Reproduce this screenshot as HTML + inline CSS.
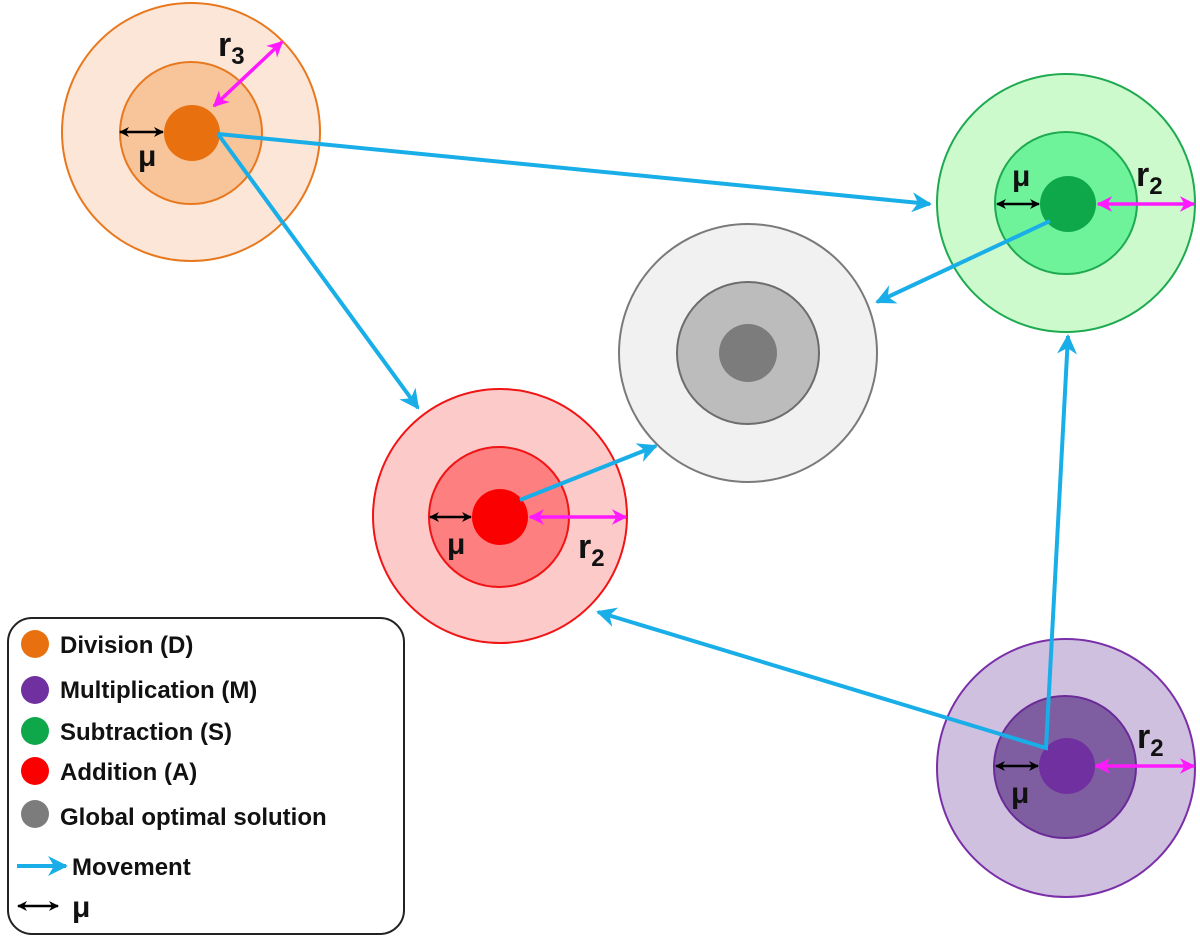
<!DOCTYPE html>
<html><head><meta charset="utf-8"><style>
html,body{margin:0;padding:0;background:#fff;}
svg{display:block;}
text{font-family:"Liberation Sans",sans-serif;font-weight:bold;fill:#111;}
</style></head><body>
<svg width="1200" height="938" viewBox="0 0 1200 938" xmlns="http://www.w3.org/2000/svg">
<defs>
<marker id="b" viewBox="0 0 10 10" refX="9" refY="5" markerWidth="5" markerHeight="5" orient="auto-start-reverse"><path d="M0,0L10,5L0,10L3,5z" fill="#19aee8"/></marker>
<marker id="m" viewBox="0 0 10 10" refX="9" refY="5" markerWidth="4.5" markerHeight="4.5" orient="auto-start-reverse"><path d="M0,0L10,5L0,10L3,5z" fill="#ff19ff"/></marker>
<marker id="k" viewBox="0 0 10 10" refX="9" refY="5" markerWidth="4" markerHeight="4" orient="auto-start-reverse"><path d="M0,0L10,5L0,10L3,5z" fill="#000"/></marker>
</defs>
<!-- Orange -->
<circle cx="191" cy="132" r="129" fill="#fce6d8" stroke="#e8781e" stroke-width="2"/>
<circle cx="191" cy="133" r="71" fill="#f8c49a" stroke="#e8781e" stroke-width="2"/>
<circle cx="192" cy="133" r="28" fill="#e8700e"/>
<!-- Green -->
<circle cx="1066" cy="203" r="129" fill="#ccfacc" stroke="#1eaa50" stroke-width="2"/>
<circle cx="1066" cy="203" r="71" fill="#6ef39a" stroke="#1eaa50" stroke-width="2"/>
<circle cx="1068" cy="204" r="28" fill="#0ea84a"/>
<!-- Gray -->
<circle cx="748" cy="353" r="129" fill="#f1f1f1" stroke="#7a7a7a" stroke-width="2"/>
<circle cx="748" cy="353" r="71" fill="#bcbcbc" stroke="#6c6c6c" stroke-width="2"/>
<circle cx="748" cy="353" r="29" fill="#7c7c7c"/>
<!-- Red -->
<circle cx="500" cy="516" r="127" fill="#fdcaca" stroke="#f01414" stroke-width="2"/>
<circle cx="499" cy="517" r="70" fill="#fd7f7f" stroke="#f01414" stroke-width="2"/>
<circle cx="500" cy="517" r="28" fill="#fb0000"/>
<!-- Purple -->
<circle cx="1066" cy="768" r="129" fill="#cec0de" stroke="#7a2fa8" stroke-width="2"/>
<circle cx="1065" cy="767" r="71" fill="#7e5ea0" stroke="#6a2a98" stroke-width="2"/>
<circle cx="1067" cy="766" r="28" fill="#7030a0"/>
<!-- movement arrows -->
<g stroke="#19aee8" stroke-width="4" fill="none">
<line x1="218" y1="134" x2="930" y2="204" marker-end="url(#b)"/>
<line x1="218" y1="134" x2="418" y2="408" marker-end="url(#b)"/>
<line x1="1050" y1="221" x2="877" y2="302" marker-end="url(#b)"/>
<line x1="520" y1="500" x2="656" y2="446" marker-end="url(#b)"/>
<polyline points="1068,336 1046,748 598,612" marker-start="url(#b)" marker-end="url(#b)"/>
</g>
<!-- magenta r arrows -->
<g stroke="#ff19ff" stroke-width="3.5">
<line x1="214" y1="106" x2="282" y2="42" marker-start="url(#m)" marker-end="url(#m)"/>
<line x1="530" y1="517" x2="626" y2="517" marker-start="url(#m)" marker-end="url(#m)"/>
<line x1="1098" y1="204" x2="1194" y2="204" marker-start="url(#m)" marker-end="url(#m)"/>
<line x1="1096" y1="766" x2="1194" y2="766" marker-start="url(#m)" marker-end="url(#m)"/>
</g>
<!-- mu arrows -->
<g stroke="#000" stroke-width="2.5">
<line x1="120" y1="132" x2="163" y2="132" marker-start="url(#k)" marker-end="url(#k)"/>
<line x1="997" y1="204" x2="1039" y2="204" marker-start="url(#k)" marker-end="url(#k)"/>
<line x1="430" y1="517" x2="471" y2="517" marker-start="url(#k)" marker-end="url(#k)"/>
<line x1="996" y1="766" x2="1038" y2="766" marker-start="url(#k)" marker-end="url(#k)"/>
</g>
<!-- labels -->
<text x="138" y="166" font-size="30">μ</text>
<text x="1012" y="186" font-size="30">μ</text>
<text x="447" y="554" font-size="30">μ</text>
<text x="1011" y="803" font-size="30">μ</text>
<text x="218" y="56" font-size="34">r<tspan font-size="24" dy="8">3</tspan></text>
<text x="578" y="558" font-size="34">r<tspan font-size="24" dy="8">2</tspan></text>
<text x="1136" y="186" font-size="34">r<tspan font-size="24" dy="8">2</tspan></text>
<text x="1137" y="748" font-size="34">r<tspan font-size="24" dy="8">2</tspan></text>
<!-- legend -->
<rect x="8" y="618" width="396" height="316" rx="24" fill="#fff" stroke="#222" stroke-width="2"/>
<circle cx="35" cy="644" r="14" fill="#e8700e"/>
<circle cx="35" cy="690" r="14" fill="#7030a0"/>
<circle cx="35" cy="731" r="14" fill="#0ea84a"/>
<circle cx="35" cy="771" r="14" fill="#fb0000"/>
<circle cx="35" cy="814" r="14" fill="#7c7c7c"/>
<g font-size="24">
<text x="60" y="653">Division (D)</text>
<text x="60" y="698">Multiplication (M)</text>
<text x="60" y="740">Subtraction (S)</text>
<text x="60" y="780">Addition (A)</text>
<text x="60" y="825">Global optimal solution</text>
<text x="72" y="875">Movement</text>
<text x="72" y="917" font-size="30">μ</text>
</g>
<line x1="17" y1="866" x2="66" y2="866" stroke="#19aee8" stroke-width="4" marker-end="url(#b)"/>
<line x1="18" y1="906" x2="58" y2="906" stroke="#000" stroke-width="2.5" marker-start="url(#k)" marker-end="url(#k)"/>
</svg>
</body></html>
